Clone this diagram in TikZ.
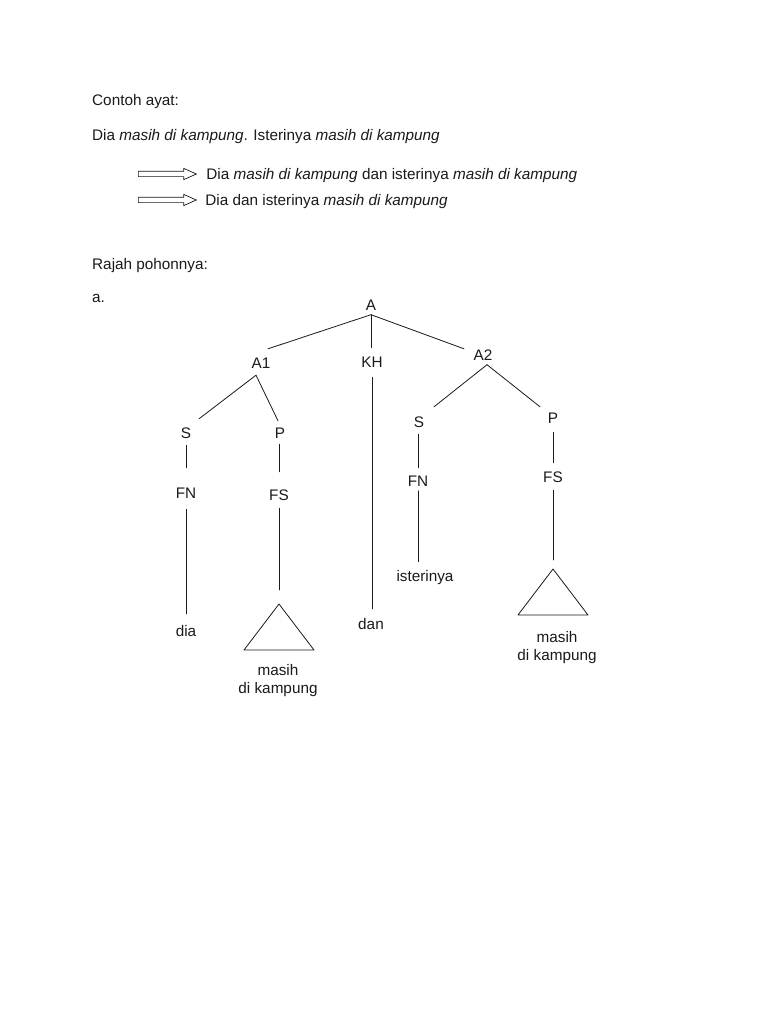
\documentclass[tikz,border=0pt]{standalone}
\usepackage{fontspec}
\setmainfont{Liberation Sans}
\usepackage{tikz}
\usetikzlibrary{positioning,shapes.arrows}
\definecolor{ink}{HTML}{1A1A1A}
\tikzset{
  branch/.style={draw=ink, line width=0.8pt, line cap=round},
  lab/.style={text=ink, font=\fontsize{15.3}{18}\selectfont, inner sep=4pt, text height=11pt, text depth=0pt},
  txt/.style={lab, inner sep=0pt, anchor=west},
  imp/.style={single arrow, draw=ink, line width=0.7pt, inner xsep=0pt, inner ysep=2.3pt,
    text height=0pt, text depth=0pt, minimum height=58pt, single arrow head extend=3pt,
    single arrow tip angle=48, anchor=tail},
  tri/.style={draw=ink, line width=0.8pt, line join=round}
}
\begin{document}
\begin{tikzpicture}[x=1pt,y=-1pt]
  \useasboundingbox (0,0) rectangle (768,1024);
  \fill[white] (0,0) rectangle (768,1024);
  % sentences
  \node[txt] (ex) at (92,100.5) {Contoh ayat:};
  \node[txt] (s0) at (92,135) {Dia \textit{masih di kampung}. Isterinya \textit{masih di kampung}};
  \node[imp] (arr1) at (138,174) {};
  \node[txt, right=9pt of arr1] (s1) {Dia \textit{masih di kampung} dan isterinya \textit{masih di kampung}};
  \node[imp] (arr2) at (138,200) {};
  \node[txt, right=8pt of arr2] (s2) {Dia dan isterinya \textit{masih di kampung}};
  \node[txt] (rp) at (92,264) {Rajah pohonnya:};
  \node[txt] (ra) at (92,296.5) {a.};
  % tree
  \node[lab] (A) at (371,305) {A};
  \node[lab] (A1) at (261,363) {A1};
  \node[lab] (KH) at (372,362) {KH};
  \node[lab] (A2) at (483,355) {A2};
  \node[lab] (S1) at (186,433) {S};
  \node[lab] (P1) at (280,433) {P};
  \node[lab] (FN1) at (186,493) {FN};
  \node[lab] (FS1) at (279,495) {FS};
  \node[lab] (dia) at (186,631) {dia};
  \node[lab] (dan) at (371,624) {dan};
  \node[lab] (S2) at (419,422) {S};
  \node[lab] (P2) at (553,418) {P};
  \node[lab] (FN2) at (418,481) {FN};
  \node[lab] (FS2) at (553,477) {FS};
  \node[lab] (ist) at (425,576) {isterinya};
  \coordinate (T1) at (279,604);
  \coordinate (T2) at (553,569);
  \draw[tri] (T1) -- +(-35,46) -- +(35,46) -- cycle;
  \draw[tri] (T2) -- +(-35,46) -- +(35,46) -- cycle;
  \node[lab, align=center, anchor=north, inner sep=0pt, text height=] (m1) at (278,664) {masih\\di kampung};
  \node[lab, align=center, anchor=north, inner sep=0pt, text height=] (m2) at (557,631) {masih\\di kampung};
  \draw[branch] (A.south) -- ([xshift=7pt,yshift=4.5pt]A1.north);
  \draw[branch] (A.south) -- ([yshift=4.5pt]A.south |- KH.north);
  \draw[branch] (A.south) -- ([xshift=-19pt,yshift=-3.5pt]A2.north);
  \draw[branch] ([yshift=-5.5pt]KH.south) -- ([yshift=5.5pt]KH.south |- dan.north);
  \draw[branch] ([xshift=-5pt,yshift=-2.5pt]A1.south) -- ([xshift=13pt,yshift=4.5pt]S1.north);
  \draw[branch] ([xshift=-5pt,yshift=-2.5pt]A1.south) -- ([xshift=-2pt,yshift=2.5pt]P1.north);
  \draw[branch] ([yshift=-2.5pt]S1.south) -- ([yshift=15.5pt]FN1.north);
  \draw[branch] ([yshift=-6.5pt]FN1.south) -- ([yshift=7.5pt]dia.north);
  \draw[branch] ([xshift=-1pt,yshift=-1.5pt]P1.south) -- ([yshift=13.5pt]FS1.north);
  \draw[branch] ([yshift=-3.5pt]FS1.south) -- ([yshift=14pt]T1);
  \draw[branch] ([xshift=4pt]A2.south) -- ([xshift=15pt,yshift=5.5pt]S2.north);
  \draw[branch] ([xshift=4pt]A2.south) -- ([xshift=-13pt,yshift=1.5pt]P2.north);
  \draw[branch] ([xshift=-1pt,yshift=-2.5pt]S2.south) -- ([yshift=3.5pt]FN2.north);
  \draw[branch] (FN2.south) -- ([yshift=4.5pt]FN2.south |- ist.north);
  \draw[branch] ([yshift=-4.5pt]P2.south) -- ([yshift=4.5pt]FS2.north);
  \draw[branch] ([yshift=-3.5pt]FS2.south) -- ([yshift=9pt]T2);
\end{tikzpicture}
\end{document}
